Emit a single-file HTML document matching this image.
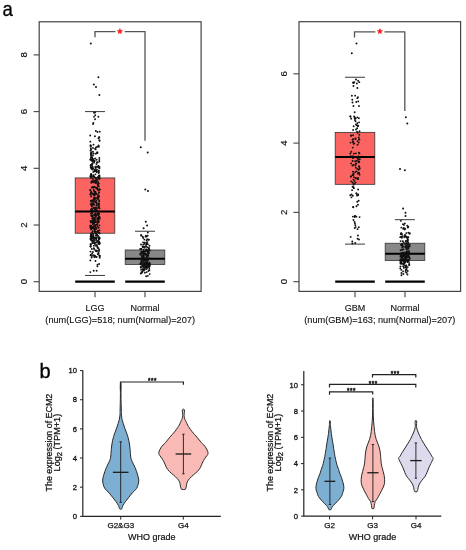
<!DOCTYPE html>
<html><head><meta charset="utf-8"><title>Figure</title><style>
html,body{margin:0;padding:0;background:#fff;width:466px;height:550px;overflow:hidden}
svg{display:block}
text{font-family:"Liberation Sans",Arial,sans-serif}
</style></head><body>
<svg width="466" height="550" viewBox="0 0 466 550">
<rect width="466" height="550" fill="#fff"/>
<rect x="75.2" y="177.94" width="39.6" height="55.28" fill="#FC6462" stroke="#333" stroke-width="0.8"/><path d="M75.2,211.53H114.8" stroke="#000" stroke-width="2"/><path d="M85,111.6H105" stroke="#222" stroke-width="0.9"/><path d="M85,275.46H105" stroke="#222" stroke-width="0.9"/><path d="M75.2,281.7H114.8" stroke="#000" stroke-width="2.2"/><rect x="125.2" y="250" width="39.6" height="14.49" fill="#888888" stroke="#333" stroke-width="0.8"/><path d="M125.2,258.74H164.8" stroke="#000" stroke-width="2"/><path d="M135,231.24H155" stroke="#222" stroke-width="0.9"/><path d="M125.2,281.7H164.8" stroke="#000" stroke-width="2.2"/><g fill="#111"><circle cx="98.04" cy="194.37" r="0.95"/><circle cx="91.5" cy="157.35" r="0.95"/><circle cx="95.43" cy="174.35" r="0.95"/><circle cx="97.24" cy="235.19" r="0.95"/><circle cx="94.07" cy="228.73" r="0.95"/><circle cx="92.79" cy="160.66" r="0.95"/><circle cx="93.77" cy="270.74" r="0.95"/><circle cx="95.4" cy="167.98" r="0.95"/><circle cx="96.79" cy="171.36" r="0.95"/><circle cx="95.57" cy="213.7" r="0.95"/><circle cx="91.23" cy="228.47" r="0.95"/><circle cx="98.05" cy="230.67" r="0.95"/><circle cx="99.07" cy="232.79" r="0.95"/><circle cx="91.17" cy="215.75" r="0.95"/><circle cx="92.6" cy="210.23" r="0.95"/><circle cx="91.87" cy="203.79" r="0.95"/><circle cx="98.35" cy="116.7" r="0.95"/><circle cx="98.94" cy="171.97" r="0.95"/><circle cx="90.63" cy="194.75" r="0.95"/><circle cx="93.39" cy="122.98" r="0.95"/><circle cx="92.05" cy="235.98" r="0.95"/><circle cx="94.71" cy="240.35" r="0.95"/><circle cx="99.05" cy="196.02" r="0.95"/><circle cx="90.87" cy="254.66" r="0.95"/><circle cx="91.84" cy="256.07" r="0.95"/><circle cx="94.88" cy="208.87" r="0.95"/><circle cx="95.23" cy="213.85" r="0.95"/><circle cx="97.36" cy="153.07" r="0.95"/><circle cx="94.4" cy="193.83" r="0.95"/><circle cx="91.55" cy="208.97" r="0.95"/><circle cx="93.59" cy="211.11" r="0.95"/><circle cx="99.63" cy="233.42" r="0.95"/><circle cx="97.41" cy="266.36" r="0.95"/><circle cx="91.32" cy="237.79" r="0.95"/><circle cx="97.96" cy="185.56" r="0.95"/><circle cx="93.18" cy="237.14" r="0.95"/><circle cx="97.7" cy="222.51" r="0.95"/><circle cx="90.32" cy="272.11" r="0.95"/><circle cx="98.56" cy="166.74" r="0.95"/><circle cx="91.76" cy="240.81" r="0.95"/><circle cx="94.58" cy="231.64" r="0.95"/><circle cx="96.55" cy="159.71" r="0.95"/><circle cx="95.08" cy="209.54" r="0.95"/><circle cx="91.79" cy="164.35" r="0.95"/><circle cx="91.54" cy="192.45" r="0.95"/><circle cx="92.93" cy="179.02" r="0.95"/><circle cx="90.7" cy="246.58" r="0.95"/><circle cx="92.28" cy="205.41" r="0.95"/><circle cx="91.45" cy="209.8" r="0.95"/><circle cx="94.66" cy="160.97" r="0.95"/><circle cx="93.62" cy="223.25" r="0.95"/><circle cx="95.83" cy="197.91" r="0.95"/><circle cx="92.9" cy="252.06" r="0.95"/><circle cx="90.53" cy="220.89" r="0.95"/><circle cx="93.38" cy="226.68" r="0.95"/><circle cx="97.45" cy="241.14" r="0.95"/><circle cx="92.66" cy="168.66" r="0.95"/><circle cx="94.08" cy="221.62" r="0.95"/><circle cx="97.45" cy="132.04" r="0.95"/><circle cx="94.1" cy="198.99" r="0.95"/><circle cx="98.72" cy="197.01" r="0.95"/><circle cx="99.01" cy="192.67" r="0.95"/><circle cx="93.18" cy="187.61" r="0.95"/><circle cx="97.27" cy="241.1" r="0.95"/><circle cx="92.63" cy="216.17" r="0.95"/><circle cx="91.54" cy="234.05" r="0.95"/><circle cx="94.4" cy="219.56" r="0.95"/><circle cx="95.98" cy="245.69" r="0.95"/><circle cx="99.18" cy="137.2" r="0.95"/><circle cx="91.6" cy="236" r="0.95"/><circle cx="97.04" cy="188.23" r="0.95"/><circle cx="94.76" cy="228.7" r="0.95"/><circle cx="91.46" cy="160.59" r="0.95"/><circle cx="99.54" cy="189.49" r="0.95"/><circle cx="96.88" cy="242.62" r="0.95"/><circle cx="91.44" cy="164.64" r="0.95"/><circle cx="98.9" cy="146.77" r="0.95"/><circle cx="91.19" cy="156.07" r="0.95"/><circle cx="91.09" cy="201.65" r="0.95"/><circle cx="93.38" cy="241.52" r="0.95"/><circle cx="99.2" cy="237.79" r="0.95"/><circle cx="90.52" cy="150.63" r="0.95"/><circle cx="99.01" cy="203.94" r="0.95"/><circle cx="96.07" cy="238.73" r="0.95"/><circle cx="90.84" cy="159.19" r="0.95"/><circle cx="95.66" cy="192.2" r="0.95"/><circle cx="94.6" cy="201.66" r="0.95"/><circle cx="95.61" cy="221.91" r="0.95"/><circle cx="97.28" cy="218.8" r="0.95"/><circle cx="96.71" cy="234.06" r="0.95"/><circle cx="99.77" cy="255.66" r="0.95"/><circle cx="91.7" cy="160.29" r="0.95"/><circle cx="98" cy="213.72" r="0.95"/><circle cx="94.15" cy="204.56" r="0.95"/><circle cx="97.72" cy="226.76" r="0.95"/><circle cx="98.76" cy="177.75" r="0.95"/><circle cx="99.72" cy="257.85" r="0.95"/><circle cx="92.75" cy="222.28" r="0.95"/><circle cx="94.55" cy="256.98" r="0.95"/><circle cx="99.25" cy="243.31" r="0.95"/><circle cx="99.28" cy="137.52" r="0.95"/><circle cx="93.78" cy="190.07" r="0.95"/><circle cx="99.23" cy="217.26" r="0.95"/><circle cx="94.1" cy="207.7" r="0.95"/><circle cx="93.8" cy="160.76" r="0.95"/><circle cx="97.46" cy="224.78" r="0.95"/><circle cx="94.72" cy="198.95" r="0.95"/><circle cx="94.5" cy="186.66" r="0.95"/><circle cx="93.91" cy="223.78" r="0.95"/><circle cx="94.35" cy="208.31" r="0.95"/><circle cx="91.54" cy="175.81" r="0.95"/><circle cx="90.79" cy="154.88" r="0.95"/><circle cx="97.44" cy="241.08" r="0.95"/><circle cx="95.62" cy="149.38" r="0.95"/><circle cx="96.65" cy="270.81" r="0.95"/><circle cx="97.9" cy="177.52" r="0.95"/><circle cx="92.41" cy="169.47" r="0.95"/><circle cx="92.44" cy="242.21" r="0.95"/><circle cx="92.87" cy="218.09" r="0.95"/><circle cx="93.12" cy="168.81" r="0.95"/><circle cx="97.5" cy="264.77" r="0.95"/><circle cx="93.79" cy="193.93" r="0.95"/><circle cx="93.3" cy="171.92" r="0.95"/><circle cx="96.31" cy="209.11" r="0.95"/><circle cx="91.99" cy="181.12" r="0.95"/><circle cx="91.22" cy="235.09" r="0.95"/><circle cx="96.89" cy="237.31" r="0.95"/><circle cx="97.46" cy="223.09" r="0.95"/><circle cx="93.05" cy="238.83" r="0.95"/><circle cx="96.31" cy="224.62" r="0.95"/><circle cx="90.53" cy="146.05" r="0.95"/><circle cx="94.08" cy="201.18" r="0.95"/><circle cx="95.75" cy="225.15" r="0.95"/><circle cx="92.63" cy="231.29" r="0.95"/><circle cx="93.54" cy="144.66" r="0.95"/><circle cx="96.05" cy="215.8" r="0.95"/><circle cx="95.86" cy="131.07" r="0.95"/><circle cx="91.68" cy="208.78" r="0.95"/><circle cx="96.98" cy="208.04" r="0.95"/><circle cx="90.97" cy="157.44" r="0.95"/><circle cx="99.51" cy="178.89" r="0.95"/><circle cx="92.14" cy="200.22" r="0.95"/><circle cx="92.63" cy="217.4" r="0.95"/><circle cx="92.12" cy="160.01" r="0.95"/><circle cx="99.72" cy="218.74" r="0.95"/><circle cx="92.95" cy="151.8" r="0.95"/><circle cx="96.01" cy="250.45" r="0.95"/><circle cx="99.71" cy="217.1" r="0.95"/><circle cx="99.32" cy="208.26" r="0.95"/><circle cx="90.61" cy="145.18" r="0.95"/><circle cx="95.2" cy="233.13" r="0.95"/><circle cx="95.97" cy="170.1" r="0.95"/><circle cx="96.94" cy="187.61" r="0.95"/><circle cx="93.42" cy="182.27" r="0.95"/><circle cx="93.35" cy="193.77" r="0.95"/><circle cx="90.24" cy="135.43" r="0.95"/><circle cx="90.54" cy="225.81" r="0.95"/><circle cx="95.48" cy="219.94" r="0.95"/><circle cx="90.93" cy="236.96" r="0.95"/><circle cx="92.14" cy="253.51" r="0.95"/><circle cx="93.4" cy="236.17" r="0.95"/><circle cx="90.88" cy="153.45" r="0.95"/><circle cx="90.5" cy="165.33" r="0.95"/><circle cx="99.1" cy="244.14" r="0.95"/><circle cx="94.38" cy="197.17" r="0.95"/><circle cx="92.17" cy="212.69" r="0.95"/><circle cx="97" cy="198.37" r="0.95"/><circle cx="90.29" cy="189.87" r="0.95"/><circle cx="92.55" cy="228.15" r="0.95"/><circle cx="99.42" cy="140.26" r="0.95"/><circle cx="98.82" cy="213.89" r="0.95"/><circle cx="96.3" cy="193.97" r="0.95"/><circle cx="91.09" cy="193.04" r="0.95"/><circle cx="93.25" cy="238.47" r="0.95"/><circle cx="90.47" cy="251.62" r="0.95"/><circle cx="92.3" cy="218.75" r="0.95"/><circle cx="90.44" cy="175.98" r="0.95"/><circle cx="91.41" cy="168.82" r="0.95"/><circle cx="96.28" cy="180.57" r="0.95"/><circle cx="91.16" cy="244.08" r="0.95"/><circle cx="91.7" cy="153.93" r="0.95"/><circle cx="98.87" cy="170.66" r="0.95"/><circle cx="93.42" cy="160.08" r="0.95"/><circle cx="93.4" cy="207.76" r="0.95"/><circle cx="91.03" cy="153.41" r="0.95"/><circle cx="97.84" cy="254.2" r="0.95"/><circle cx="96.69" cy="256.99" r="0.95"/><circle cx="95.45" cy="260.96" r="0.95"/><circle cx="96.13" cy="232.97" r="0.95"/><circle cx="91.16" cy="233.34" r="0.95"/><circle cx="92.7" cy="238.18" r="0.95"/><circle cx="95.8" cy="202" r="0.95"/><circle cx="99.34" cy="255.51" r="0.95"/><circle cx="98.04" cy="198.94" r="0.95"/><circle cx="96.35" cy="239.89" r="0.95"/><circle cx="95.18" cy="187.43" r="0.95"/><circle cx="90.35" cy="260.4" r="0.95"/><circle cx="98.75" cy="227.8" r="0.95"/><circle cx="90.84" cy="148.26" r="0.95"/><circle cx="91.44" cy="205.77" r="0.95"/><circle cx="96.85" cy="169.33" r="0.95"/><circle cx="98" cy="190.04" r="0.95"/><circle cx="97.75" cy="196.26" r="0.95"/><circle cx="94.54" cy="237.88" r="0.95"/><circle cx="91.9" cy="201.04" r="0.95"/><circle cx="90.54" cy="255.39" r="0.95"/><circle cx="98.37" cy="170.71" r="0.95"/><circle cx="99.59" cy="140.86" r="0.95"/><circle cx="92.54" cy="163.39" r="0.95"/><circle cx="98.51" cy="253.51" r="0.95"/><circle cx="94.06" cy="225.28" r="0.95"/><circle cx="93.19" cy="227.13" r="0.95"/><circle cx="95.05" cy="244.12" r="0.95"/><circle cx="90.28" cy="194.17" r="0.95"/><circle cx="94.45" cy="171.3" r="0.95"/><circle cx="92.12" cy="227.51" r="0.95"/><circle cx="97.04" cy="162.16" r="0.95"/><circle cx="95.02" cy="171.35" r="0.95"/><circle cx="98.54" cy="242.82" r="0.95"/><circle cx="98.81" cy="175.58" r="0.95"/><circle cx="93.24" cy="159.39" r="0.95"/><circle cx="92.89" cy="237.41" r="0.95"/><circle cx="99.22" cy="201.14" r="0.95"/><circle cx="95.04" cy="192.57" r="0.95"/><circle cx="91.13" cy="196.44" r="0.95"/><circle cx="90.64" cy="245.77" r="0.95"/><circle cx="99.71" cy="189.62" r="0.95"/><circle cx="95.76" cy="193.47" r="0.95"/><circle cx="90.72" cy="167.61" r="0.95"/><circle cx="95.11" cy="170.45" r="0.95"/><circle cx="95.04" cy="226.31" r="0.95"/><circle cx="94.38" cy="181.62" r="0.95"/><circle cx="99.33" cy="161.54" r="0.95"/><circle cx="99.31" cy="157.95" r="0.95"/><circle cx="91.4" cy="240.25" r="0.95"/><circle cx="91.66" cy="257.6" r="0.95"/><circle cx="94.11" cy="190.99" r="0.95"/><circle cx="98.21" cy="236.03" r="0.95"/><circle cx="96.19" cy="202.44" r="0.95"/><circle cx="97.21" cy="146.8" r="0.95"/><circle cx="95.73" cy="221.64" r="0.95"/><circle cx="92.22" cy="232.97" r="0.95"/><circle cx="98.05" cy="214.72" r="0.95"/><circle cx="90.33" cy="190.14" r="0.95"/><circle cx="96.91" cy="245.04" r="0.95"/><circle cx="92.07" cy="221.52" r="0.95"/><circle cx="94.72" cy="242.45" r="0.95"/><circle cx="99.56" cy="189.46" r="0.95"/><circle cx="95.37" cy="166.67" r="0.95"/><circle cx="90.75" cy="221.86" r="0.95"/><circle cx="94.32" cy="222.32" r="0.95"/><circle cx="96.54" cy="205.63" r="0.95"/><circle cx="90.74" cy="236" r="0.95"/><circle cx="92.63" cy="233.43" r="0.95"/><circle cx="90.38" cy="226.07" r="0.95"/><circle cx="95.38" cy="214.64" r="0.95"/><circle cx="93.86" cy="248.27" r="0.95"/><circle cx="95.04" cy="177.56" r="0.95"/><circle cx="93.04" cy="200.43" r="0.95"/><circle cx="96.51" cy="228.77" r="0.95"/><circle cx="91.86" cy="248.95" r="0.95"/><circle cx="98.9" cy="176.1" r="0.95"/><circle cx="99.42" cy="242.66" r="0.95"/><circle cx="94.93" cy="242.49" r="0.95"/><circle cx="94.67" cy="242.69" r="0.95"/><circle cx="98.45" cy="248.32" r="0.95"/><circle cx="92.98" cy="155.51" r="0.95"/><circle cx="97.91" cy="231.5" r="0.95"/><circle cx="92.96" cy="228.17" r="0.95"/><circle cx="97.11" cy="166.36" r="0.95"/><circle cx="93.41" cy="195.05" r="0.95"/><circle cx="95.98" cy="238.21" r="0.95"/><circle cx="99.09" cy="216.66" r="0.95"/><circle cx="90.72" cy="159.21" r="0.95"/><circle cx="97.95" cy="221.99" r="0.95"/><circle cx="95.4" cy="183.08" r="0.95"/><circle cx="93.84" cy="245.67" r="0.95"/><circle cx="93.56" cy="180.92" r="0.95"/><circle cx="90.87" cy="174.24" r="0.95"/><circle cx="92.68" cy="167.34" r="0.95"/><circle cx="96.18" cy="187.91" r="0.95"/><circle cx="91.14" cy="222.41" r="0.95"/><circle cx="96.63" cy="251.22" r="0.95"/><circle cx="99.44" cy="208.36" r="0.95"/><circle cx="99.62" cy="176.9" r="0.95"/><circle cx="98.74" cy="237.92" r="0.95"/><circle cx="97.94" cy="231.77" r="0.95"/><circle cx="91.91" cy="206.07" r="0.95"/><circle cx="99.51" cy="178.16" r="0.95"/><circle cx="92.15" cy="157.44" r="0.95"/><circle cx="98.54" cy="243.09" r="0.95"/><circle cx="98.63" cy="238.44" r="0.95"/><circle cx="96.17" cy="171.01" r="0.95"/><circle cx="95.2" cy="191.81" r="0.95"/><circle cx="92.12" cy="181.76" r="0.95"/><circle cx="95.19" cy="115.26" r="0.95"/><circle cx="92.99" cy="148.07" r="0.95"/><circle cx="91.41" cy="164.93" r="0.95"/><circle cx="91.43" cy="174.15" r="0.95"/><circle cx="97.89" cy="220.23" r="0.95"/><circle cx="99.06" cy="192.25" r="0.95"/><circle cx="91.56" cy="238.43" r="0.95"/><circle cx="90.33" cy="176.61" r="0.95"/><circle cx="92.73" cy="176.86" r="0.95"/><circle cx="91.49" cy="181.71" r="0.95"/><circle cx="92.01" cy="215.77" r="0.95"/><circle cx="95.8" cy="221.74" r="0.95"/><circle cx="94.25" cy="218.01" r="0.95"/><circle cx="94.32" cy="256.47" r="0.95"/><circle cx="92.17" cy="164.75" r="0.95"/><circle cx="96.58" cy="205.25" r="0.95"/><circle cx="92.98" cy="220.9" r="0.95"/><circle cx="94.03" cy="204.51" r="0.95"/><circle cx="94.65" cy="181.67" r="0.95"/><circle cx="98.88" cy="221.44" r="0.95"/><circle cx="92.57" cy="166.66" r="0.95"/><circle cx="97.1" cy="152.55" r="0.95"/><circle cx="93.17" cy="220.91" r="0.95"/><circle cx="98.79" cy="242.13" r="0.95"/><circle cx="93.98" cy="176.49" r="0.95"/><circle cx="95.05" cy="119.21" r="0.95"/><circle cx="98.62" cy="241.32" r="0.95"/><circle cx="96.66" cy="182.85" r="0.95"/><circle cx="91.11" cy="167.4" r="0.95"/><circle cx="91.51" cy="152.29" r="0.95"/><circle cx="99.71" cy="243.27" r="0.95"/><circle cx="90.48" cy="246.52" r="0.95"/><circle cx="93.09" cy="124.01" r="0.95"/><circle cx="99.41" cy="243.8" r="0.95"/><circle cx="90.35" cy="239.03" r="0.95"/><circle cx="91.75" cy="200.97" r="0.95"/><circle cx="92.25" cy="215.64" r="0.95"/><circle cx="91.03" cy="177.88" r="0.95"/><circle cx="94.73" cy="237.94" r="0.95"/><circle cx="95.89" cy="153.69" r="0.95"/><circle cx="93.26" cy="235.83" r="0.95"/><circle cx="91.24" cy="175.27" r="0.95"/><circle cx="97.99" cy="250.64" r="0.95"/><circle cx="97.92" cy="213.21" r="0.95"/><circle cx="95.6" cy="256.6" r="0.95"/><circle cx="91.52" cy="227.5" r="0.95"/><circle cx="95.4" cy="227.65" r="0.95"/><circle cx="96.24" cy="181.92" r="0.95"/><circle cx="94.31" cy="214.85" r="0.95"/><circle cx="98.49" cy="252.48" r="0.95"/><circle cx="93.94" cy="116.86" r="0.95"/><circle cx="95.1" cy="158.54" r="0.95"/><circle cx="91.3" cy="153.26" r="0.95"/><circle cx="95.61" cy="233.49" r="0.95"/><circle cx="97.56" cy="220.31" r="0.95"/><circle cx="97.22" cy="235.03" r="0.95"/><circle cx="92.67" cy="243.15" r="0.95"/><circle cx="99.72" cy="256.52" r="0.95"/><circle cx="97.11" cy="210.39" r="0.95"/><circle cx="94.27" cy="243.29" r="0.95"/><circle cx="94.18" cy="239.07" r="0.95"/><circle cx="97.68" cy="162.49" r="0.95"/><circle cx="91.89" cy="212.24" r="0.95"/><circle cx="96.34" cy="238.48" r="0.95"/><circle cx="97.1" cy="188.48" r="0.95"/><circle cx="95.16" cy="231.8" r="0.95"/><circle cx="98.58" cy="207.28" r="0.95"/><circle cx="94.7" cy="230.27" r="0.95"/><circle cx="94.66" cy="208.7" r="0.95"/><circle cx="92.93" cy="193.92" r="0.95"/><circle cx="99.03" cy="206.06" r="0.95"/><circle cx="93.24" cy="220.18" r="0.95"/><circle cx="96.87" cy="172.23" r="0.95"/><circle cx="94.13" cy="160.68" r="0.95"/><circle cx="99.18" cy="238.83" r="0.95"/><circle cx="99.3" cy="242.25" r="0.95"/><circle cx="90.49" cy="244.08" r="0.95"/><circle cx="99.75" cy="131.64" r="0.95"/><circle cx="96.01" cy="147.53" r="0.95"/><circle cx="90.91" cy="234.76" r="0.95"/><circle cx="94.97" cy="136.21" r="0.95"/><circle cx="90.67" cy="236.57" r="0.95"/><circle cx="95.47" cy="209.97" r="0.95"/><circle cx="91.98" cy="211.06" r="0.95"/><circle cx="93.73" cy="153.57" r="0.95"/><circle cx="93.13" cy="255.24" r="0.95"/><circle cx="95.98" cy="227.37" r="0.95"/><circle cx="98.09" cy="197.67" r="0.95"/><circle cx="99.19" cy="250.84" r="0.95"/><circle cx="93.36" cy="234.29" r="0.95"/><circle cx="95.67" cy="213.95" r="0.95"/><circle cx="90.26" cy="159.64" r="0.95"/><circle cx="93.77" cy="176.41" r="0.95"/><circle cx="99.42" cy="166.89" r="0.95"/><circle cx="91.34" cy="176.39" r="0.95"/><circle cx="98.55" cy="183.5" r="0.95"/><circle cx="96.46" cy="164" r="0.95"/><circle cx="93.02" cy="186.95" r="0.95"/><circle cx="97.67" cy="179.82" r="0.95"/><circle cx="92.98" cy="228.59" r="0.95"/><circle cx="98.79" cy="239.76" r="0.95"/><circle cx="90.99" cy="177.03" r="0.95"/><circle cx="91.34" cy="239.9" r="0.95"/><circle cx="97.4" cy="152.55" r="0.95"/><circle cx="94.51" cy="198.11" r="0.95"/><circle cx="91.62" cy="226.11" r="0.95"/><circle cx="95.13" cy="148.65" r="0.95"/><circle cx="93.05" cy="240.75" r="0.95"/><circle cx="95.47" cy="208.92" r="0.95"/><circle cx="97.34" cy="246.57" r="0.95"/><circle cx="98.43" cy="138.33" r="0.95"/><circle cx="90.77" cy="200.91" r="0.95"/><circle cx="95.89" cy="170.43" r="0.95"/><circle cx="99.64" cy="230.36" r="0.95"/><circle cx="94.61" cy="170.69" r="0.95"/><circle cx="97.59" cy="184.14" r="0.95"/><circle cx="91.13" cy="191.92" r="0.95"/><circle cx="98.59" cy="145.35" r="0.95"/><circle cx="95.79" cy="216.78" r="0.95"/><circle cx="98.73" cy="218.43" r="0.95"/><circle cx="97.76" cy="185.55" r="0.95"/><circle cx="98.54" cy="166.04" r="0.95"/><circle cx="90.75" cy="225.6" r="0.95"/><circle cx="97.07" cy="188.51" r="0.95"/><circle cx="92.09" cy="236.47" r="0.95"/><circle cx="92.75" cy="204.02" r="0.95"/><circle cx="93.32" cy="175.26" r="0.95"/><circle cx="95.88" cy="251.03" r="0.95"/><circle cx="96.23" cy="180.85" r="0.95"/><circle cx="99.14" cy="264.02" r="0.95"/><circle cx="90.32" cy="141.67" r="0.95"/><circle cx="92.06" cy="213.63" r="0.95"/><circle cx="93.68" cy="218.97" r="0.95"/><circle cx="98.05" cy="181.83" r="0.95"/><circle cx="95.48" cy="207.76" r="0.95"/><circle cx="95.12" cy="180.46" r="0.95"/><circle cx="97.5" cy="247.72" r="0.95"/><circle cx="96.49" cy="202.57" r="0.95"/><circle cx="92.98" cy="203.18" r="0.95"/><circle cx="91.04" cy="149.68" r="0.95"/><circle cx="94.64" cy="255.4" r="0.95"/><circle cx="98.65" cy="215.05" r="0.95"/><circle cx="95.94" cy="193.58" r="0.95"/><circle cx="90.71" cy="204.15" r="0.95"/><circle cx="94.42" cy="249.52" r="0.95"/><circle cx="93.89" cy="198.56" r="0.95"/><circle cx="95.79" cy="235.43" r="0.95"/><circle cx="95.84" cy="237.54" r="0.95"/><circle cx="99.33" cy="159.94" r="0.95"/><circle cx="93.45" cy="237.36" r="0.95"/><circle cx="94.12" cy="214.92" r="0.95"/><circle cx="96.09" cy="177.9" r="0.95"/><circle cx="98.71" cy="183.55" r="0.95"/><circle cx="96.98" cy="203.79" r="0.95"/><circle cx="94.72" cy="169.96" r="0.95"/><circle cx="98.02" cy="213.89" r="0.95"/><circle cx="94.86" cy="194.99" r="0.95"/><circle cx="99.45" cy="168.3" r="0.95"/><circle cx="92.91" cy="187.4" r="0.95"/><circle cx="91.42" cy="192.17" r="0.95"/><circle cx="98.17" cy="219.23" r="0.95"/><circle cx="93.05" cy="203.15" r="0.95"/><circle cx="98.34" cy="220.13" r="0.95"/><circle cx="96.05" cy="178.69" r="0.95"/><circle cx="95.09" cy="221.54" r="0.95"/><circle cx="91.04" cy="213.82" r="0.95"/><circle cx="97.75" cy="177.18" r="0.95"/><circle cx="90.83" cy="210.34" r="0.95"/><circle cx="99.47" cy="225.34" r="0.95"/><circle cx="98.62" cy="167.2" r="0.95"/><circle cx="93.11" cy="221.49" r="0.95"/><circle cx="91.43" cy="164.69" r="0.95"/><circle cx="98.7" cy="173.01" r="0.95"/><circle cx="94.81" cy="215.55" r="0.95"/><circle cx="91.4" cy="182.82" r="0.95"/><circle cx="94.99" cy="256.29" r="0.95"/><circle cx="92.57" cy="220.7" r="0.95"/><circle cx="94.12" cy="162.51" r="0.95"/><circle cx="96.35" cy="200.36" r="0.95"/><circle cx="98.99" cy="203.22" r="0.95"/><circle cx="97.89" cy="189.15" r="0.95"/><circle cx="91.75" cy="187.45" r="0.95"/><circle cx="94.78" cy="199.83" r="0.95"/><circle cx="94.92" cy="217.94" r="0.95"/><circle cx="99.7" cy="238.5" r="0.95"/><circle cx="91.03" cy="229.4" r="0.95"/><circle cx="95.1" cy="229.38" r="0.95"/><circle cx="98.98" cy="217.03" r="0.95"/><circle cx="94.03" cy="112.67" r="0.95"/><circle cx="92.71" cy="224.03" r="0.95"/><circle cx="95.54" cy="215.54" r="0.95"/><circle cx="93.27" cy="222.33" r="0.95"/><circle cx="99.1" cy="200.11" r="0.95"/><circle cx="91.01" cy="146.1" r="0.95"/><circle cx="92.18" cy="158.49" r="0.95"/><circle cx="91.01" cy="221.83" r="0.95"/><circle cx="97.03" cy="231.71" r="0.95"/><circle cx="93.01" cy="159.14" r="0.95"/><circle cx="98.84" cy="211.38" r="0.95"/><circle cx="98.78" cy="186.42" r="0.95"/><circle cx="99.19" cy="249.67" r="0.95"/><circle cx="92.66" cy="161.64" r="0.95"/><circle cx="90.21" cy="227.58" r="0.95"/><circle cx="93.92" cy="211.32" r="0.95"/><circle cx="99.44" cy="237.35" r="0.95"/><circle cx="97.53" cy="217.97" r="0.95"/><circle cx="90.77" cy="167.02" r="0.95"/><circle cx="96.94" cy="167.09" r="0.95"/><circle cx="99" cy="213.18" r="0.95"/><circle cx="99.49" cy="175.43" r="0.95"/><circle cx="97.07" cy="214.58" r="0.95"/><circle cx="98.48" cy="222.17" r="0.95"/><circle cx="98.28" cy="204.79" r="0.95"/><circle cx="93.64" cy="237.08" r="0.95"/><circle cx="91.15" cy="227.26" r="0.95"/><circle cx="147.18" cy="251.36" r="0.95"/><circle cx="141.51" cy="248.91" r="0.95"/><circle cx="143.89" cy="270.59" r="0.95"/><circle cx="149.76" cy="250.54" r="0.95"/><circle cx="145.57" cy="246.41" r="0.95"/><circle cx="145.21" cy="259.27" r="0.95"/><circle cx="149.3" cy="270.19" r="0.95"/><circle cx="142.93" cy="252.1" r="0.95"/><circle cx="149.79" cy="264.59" r="0.95"/><circle cx="148.96" cy="253.33" r="0.95"/><circle cx="143.69" cy="261.1" r="0.95"/><circle cx="143.34" cy="253.52" r="0.95"/><circle cx="141.42" cy="264.27" r="0.95"/><circle cx="148.99" cy="258.43" r="0.95"/><circle cx="141.98" cy="257.03" r="0.95"/><circle cx="140.29" cy="253.72" r="0.95"/><circle cx="148.74" cy="265.72" r="0.95"/><circle cx="145.94" cy="235.73" r="0.95"/><circle cx="146.65" cy="263.44" r="0.95"/><circle cx="147.24" cy="262.99" r="0.95"/><circle cx="140.61" cy="264.32" r="0.95"/><circle cx="141.08" cy="269.83" r="0.95"/><circle cx="145" cy="259.86" r="0.95"/><circle cx="140.68" cy="248.84" r="0.95"/><circle cx="145.04" cy="251.27" r="0.95"/><circle cx="147.27" cy="265.92" r="0.95"/><circle cx="146.51" cy="267.45" r="0.95"/><circle cx="146.12" cy="262.58" r="0.95"/><circle cx="140.65" cy="249.03" r="0.95"/><circle cx="142.47" cy="258.12" r="0.95"/><circle cx="148.82" cy="239.66" r="0.95"/><circle cx="141.38" cy="252.92" r="0.95"/><circle cx="145.32" cy="254.03" r="0.95"/><circle cx="140.68" cy="249.06" r="0.95"/><circle cx="149.22" cy="249.99" r="0.95"/><circle cx="141.85" cy="261.98" r="0.95"/><circle cx="144.14" cy="264.3" r="0.95"/><circle cx="145.45" cy="259.47" r="0.95"/><circle cx="147.1" cy="258.09" r="0.95"/><circle cx="149.2" cy="267.33" r="0.95"/><circle cx="147.27" cy="259.37" r="0.95"/><circle cx="143.53" cy="253.44" r="0.95"/><circle cx="140.92" cy="267.48" r="0.95"/><circle cx="146.99" cy="267.42" r="0.95"/><circle cx="149.54" cy="266.49" r="0.95"/><circle cx="140.36" cy="263.6" r="0.95"/><circle cx="147.64" cy="235.76" r="0.95"/><circle cx="141.89" cy="272.78" r="0.95"/><circle cx="144.62" cy="266.23" r="0.95"/><circle cx="145.22" cy="266.72" r="0.95"/><circle cx="146.1" cy="258.49" r="0.95"/><circle cx="149.7" cy="274.1" r="0.95"/><circle cx="146.8" cy="258.92" r="0.95"/><circle cx="143.97" cy="266.77" r="0.95"/><circle cx="147.06" cy="263.97" r="0.95"/><circle cx="144.68" cy="247.74" r="0.95"/><circle cx="144.17" cy="266.22" r="0.95"/><circle cx="143.71" cy="254.15" r="0.95"/><circle cx="144.94" cy="260.31" r="0.95"/><circle cx="142.9" cy="260.01" r="0.95"/><circle cx="142.52" cy="246.44" r="0.95"/><circle cx="141.63" cy="266.82" r="0.95"/><circle cx="144.43" cy="239.6" r="0.95"/><circle cx="143.02" cy="242.36" r="0.95"/><circle cx="148.23" cy="252.55" r="0.95"/><circle cx="148.34" cy="271.11" r="0.95"/><circle cx="143.5" cy="252.71" r="0.95"/><circle cx="146.14" cy="254.67" r="0.95"/><circle cx="148.86" cy="248.82" r="0.95"/><circle cx="143.65" cy="265.44" r="0.95"/><circle cx="145.53" cy="236.61" r="0.95"/><circle cx="144.46" cy="242.75" r="0.95"/><circle cx="146.44" cy="268.04" r="0.95"/><circle cx="149.41" cy="262.75" r="0.95"/><circle cx="141.53" cy="272.31" r="0.95"/><circle cx="149.47" cy="245.69" r="0.95"/><circle cx="146.59" cy="240.48" r="0.95"/><circle cx="147.84" cy="232.49" r="0.95"/><circle cx="146.3" cy="254.31" r="0.95"/><circle cx="148.56" cy="252.62" r="0.95"/><circle cx="143.33" cy="252.24" r="0.95"/><circle cx="147" cy="255.61" r="0.95"/><circle cx="142.74" cy="236.7" r="0.95"/><circle cx="145.08" cy="254.44" r="0.95"/><circle cx="146.74" cy="262.2" r="0.95"/><circle cx="142.13" cy="257.4" r="0.95"/><circle cx="140.79" cy="273.44" r="0.95"/><circle cx="147.79" cy="250.81" r="0.95"/><circle cx="147.97" cy="251.75" r="0.95"/><circle cx="146.59" cy="259.91" r="0.95"/><circle cx="143.29" cy="244.6" r="0.95"/><circle cx="146.52" cy="249.71" r="0.95"/><circle cx="141.01" cy="262.17" r="0.95"/><circle cx="146.56" cy="269.12" r="0.95"/><circle cx="145.73" cy="267.58" r="0.95"/><circle cx="146.13" cy="266.21" r="0.95"/><circle cx="144.49" cy="263.05" r="0.95"/><circle cx="142.36" cy="259.21" r="0.95"/><circle cx="147.17" cy="239.18" r="0.95"/><circle cx="144.66" cy="263.73" r="0.95"/><circle cx="147.36" cy="242.09" r="0.95"/><circle cx="143.7" cy="252.17" r="0.95"/><circle cx="141.04" cy="244.49" r="0.95"/><circle cx="145.41" cy="260.39" r="0.95"/><circle cx="146.18" cy="276.28" r="0.95"/><circle cx="149.05" cy="248.03" r="0.95"/><circle cx="148.72" cy="264.61" r="0.95"/><circle cx="140.75" cy="267.31" r="0.95"/><circle cx="147.61" cy="247.37" r="0.95"/><circle cx="142.71" cy="251.99" r="0.95"/><circle cx="146.89" cy="265.48" r="0.95"/><circle cx="143.84" cy="264.02" r="0.95"/><circle cx="143.29" cy="238.04" r="0.95"/><circle cx="144.89" cy="264" r="0.95"/><circle cx="145.29" cy="251.49" r="0.95"/><circle cx="146.87" cy="267.65" r="0.95"/><circle cx="146.32" cy="246.54" r="0.95"/><circle cx="146.71" cy="267.96" r="0.95"/><circle cx="143.89" cy="257.3" r="0.95"/><circle cx="146.7" cy="272.12" r="0.95"/><circle cx="143.52" cy="256.24" r="0.95"/><circle cx="146.03" cy="244.85" r="0.95"/><circle cx="144.61" cy="268.83" r="0.95"/><circle cx="145.6" cy="263.84" r="0.95"/><circle cx="140.37" cy="249.22" r="0.95"/><circle cx="144.99" cy="254.43" r="0.95"/><circle cx="142.31" cy="262.81" r="0.95"/><circle cx="143.9" cy="253.78" r="0.95"/><circle cx="140.91" cy="259.01" r="0.95"/><circle cx="146.51" cy="244.02" r="0.95"/><circle cx="148.78" cy="263.34" r="0.95"/><circle cx="143.6" cy="249.59" r="0.95"/><circle cx="141.21" cy="253.57" r="0.95"/><circle cx="146.15" cy="250.3" r="0.95"/><circle cx="141.42" cy="261.06" r="0.95"/><circle cx="148.76" cy="250.79" r="0.95"/><circle cx="141.38" cy="251.61" r="0.95"/><circle cx="143.67" cy="260.81" r="0.95"/><circle cx="144.95" cy="272.74" r="0.95"/><circle cx="141.33" cy="235.64" r="0.95"/><circle cx="143.26" cy="251.14" r="0.95"/><circle cx="142.84" cy="265.68" r="0.95"/><circle cx="147.05" cy="250.6" r="0.95"/><circle cx="149.67" cy="263.72" r="0.95"/><circle cx="143.68" cy="258.62" r="0.95"/><circle cx="147.79" cy="244.15" r="0.95"/><circle cx="141.55" cy="259.19" r="0.95"/><circle cx="145.77" cy="263.47" r="0.95"/><circle cx="144.35" cy="263.01" r="0.95"/><circle cx="142.97" cy="269.15" r="0.95"/><circle cx="148.09" cy="265.29" r="0.95"/><circle cx="147.37" cy="263.93" r="0.95"/><circle cx="141.49" cy="266.51" r="0.95"/><circle cx="143.01" cy="270.14" r="0.95"/><circle cx="148.07" cy="258.72" r="0.95"/><circle cx="149.73" cy="265.42" r="0.95"/><circle cx="146.07" cy="250.35" r="0.95"/><circle cx="148.57" cy="239.73" r="0.95"/><circle cx="149.65" cy="263.88" r="0.95"/><circle cx="147.31" cy="255.55" r="0.95"/><circle cx="146.39" cy="257.59" r="0.95"/><circle cx="142.32" cy="269.29" r="0.95"/><circle cx="143.76" cy="267.77" r="0.95"/><circle cx="146.19" cy="242.82" r="0.95"/><circle cx="149.09" cy="258.49" r="0.95"/><circle cx="143.1" cy="247.09" r="0.95"/><circle cx="143.99" cy="269.89" r="0.95"/><circle cx="140.41" cy="254.84" r="0.95"/><circle cx="146.89" cy="243.86" r="0.95"/><circle cx="144.46" cy="243.77" r="0.95"/><circle cx="147.86" cy="275.83" r="0.95"/><circle cx="142.44" cy="257.12" r="0.95"/><circle cx="146.53" cy="261.31" r="0.95"/><circle cx="146.66" cy="249.47" r="0.95"/><circle cx="144.66" cy="269.42" r="0.95"/><circle cx="142.01" cy="264.09" r="0.95"/><circle cx="144.07" cy="246.67" r="0.95"/><circle cx="147.35" cy="258.62" r="0.95"/><circle cx="142.02" cy="259.05" r="0.95"/><circle cx="141.06" cy="235.07" r="0.95"/><circle cx="144.64" cy="262.62" r="0.95"/><circle cx="142.45" cy="271.66" r="0.95"/><circle cx="147.89" cy="260.69" r="0.95"/><circle cx="148.05" cy="267.02" r="0.95"/><circle cx="149.27" cy="268.89" r="0.95"/><circle cx="148.26" cy="255.68" r="0.95"/><circle cx="146.42" cy="236.59" r="0.95"/><circle cx="142" cy="255.32" r="0.95"/><circle cx="148.1" cy="253.21" r="0.95"/><circle cx="147.19" cy="262.52" r="0.95"/><circle cx="147.37" cy="255.58" r="0.95"/><circle cx="146.9" cy="249.89" r="0.95"/><circle cx="148.17" cy="255.02" r="0.95"/><circle cx="143.06" cy="247.19" r="0.95"/><circle cx="146.66" cy="256.23" r="0.95"/><circle cx="145.17" cy="265.85" r="0.95"/><circle cx="143.44" cy="255.22" r="0.95"/><circle cx="143.34" cy="258.04" r="0.95"/><circle cx="141.69" cy="266.69" r="0.95"/><circle cx="144.92" cy="254.08" r="0.95"/><circle cx="90.8" cy="43.4" r="1.0"/><circle cx="98.4" cy="77.3" r="1.0"/><circle cx="93.9" cy="84.5" r="1.0"/><circle cx="96" cy="87" r="1.0"/><circle cx="99.4" cy="94.9" r="1.0"/><circle cx="95" cy="112.5" r="1.0"/><circle cx="140.8" cy="147.3" r="1.0"/><circle cx="147.7" cy="152.5" r="1.0"/><circle cx="145.3" cy="189.6" r="1.0"/><circle cx="148" cy="190.9" r="1.0"/><circle cx="145.8" cy="221.8" r="1.0"/><circle cx="147.1" cy="225.6" r="1.0"/><circle cx="143.6" cy="228.3" r="1.0"/></g><rect x="39.2" y="21.8" width="161.9" height="269.6" fill="none" stroke="#444" stroke-width="1.2"/><path d="M33.6,281.7H39.2" stroke="#444" stroke-width="1.1"/><text transform="translate(22.7,281.7) rotate(-90)" x="0" y="4.0" font-size="9.6" text-anchor="middle" fill="#111" stroke="#111" stroke-width="0.2">0</text><path d="M33.6,225H39.2" stroke="#444" stroke-width="1.1"/><text transform="translate(22.7,225) rotate(-90)" x="0" y="4.0" font-size="9.6" text-anchor="middle" fill="#111" stroke="#111" stroke-width="0.2">2</text><path d="M33.6,168.3H39.2" stroke="#444" stroke-width="1.1"/><text transform="translate(22.7,168.3) rotate(-90)" x="0" y="4.0" font-size="9.6" text-anchor="middle" fill="#111" stroke="#111" stroke-width="0.2">4</text><path d="M33.6,111.6H39.2" stroke="#444" stroke-width="1.1"/><text transform="translate(22.7,111.6) rotate(-90)" x="0" y="4.0" font-size="9.6" text-anchor="middle" fill="#111" stroke="#111" stroke-width="0.2">6</text><path d="M33.6,54.9H39.2" stroke="#444" stroke-width="1.1"/><text transform="translate(22.7,54.9) rotate(-90)" x="0" y="4.0" font-size="9.6" text-anchor="middle" fill="#111" stroke="#111" stroke-width="0.2">8</text><path d="M95,291.4V297.2" stroke="#444" stroke-width="1.1"/><text x="95" y="311.4" font-size="9" text-anchor="middle" fill="#111" stroke="#111" stroke-width="0.12">LGG</text><path d="M145,291.4V297.2" stroke="#444" stroke-width="1.1"/><text x="145" y="311.4" font-size="9" text-anchor="middle" fill="#111" stroke="#111" stroke-width="0.12">Normal</text><text x="120.15" y="322.9" font-size="9.2" text-anchor="middle" fill="#111" stroke="#111" stroke-width="0.12">(num(LGG)=518; num(Normal)=207)</text><path d="M95,37.2V31.7H115.4M124.8,31.7H145V140.8" stroke="#555" stroke-width="1.3" fill="none"/><text x="120" y="38.3" font-size="13.5" text-anchor="middle" fill="#f00" stroke="#f00" stroke-width="0.4">*</text><rect x="335.2" y="132.36" width="39.6" height="51.97" fill="#FC6462" stroke="#333" stroke-width="0.8"/><path d="M335.2,156.96H374.8" stroke="#000" stroke-width="2"/><path d="M345,77.26H365" stroke="#222" stroke-width="0.9"/><path d="M345,244.1H365" stroke="#222" stroke-width="0.9"/><path d="M335.2,281.7H374.8" stroke="#000" stroke-width="2.2"/><rect x="385.2" y="243.24" width="39.6" height="17.33" fill="#888888" stroke="#333" stroke-width="0.8"/><path d="M385.2,253.63H424.8" stroke="#000" stroke-width="2"/><path d="M395,219.68H415" stroke="#222" stroke-width="0.9"/><path d="M385.2,281.7H424.8" stroke="#000" stroke-width="2.2"/><g fill="#111"><circle cx="356.58" cy="171.33" r="0.95"/><circle cx="352.43" cy="165.55" r="0.95"/><circle cx="355.64" cy="118.56" r="0.95"/><circle cx="353.16" cy="139.1" r="0.95"/><circle cx="359.02" cy="139.22" r="0.95"/><circle cx="353.48" cy="86.07" r="0.95"/><circle cx="352.08" cy="190.13" r="0.95"/><circle cx="350.61" cy="156.18" r="0.95"/><circle cx="353.49" cy="219.93" r="0.95"/><circle cx="359.7" cy="168.7" r="0.95"/><circle cx="352.3" cy="99.7" r="0.95"/><circle cx="354.6" cy="221.99" r="0.95"/><circle cx="359.53" cy="131.31" r="0.95"/><circle cx="350.26" cy="116.17" r="0.95"/><circle cx="353.03" cy="156.08" r="0.95"/><circle cx="358.08" cy="125.92" r="0.95"/><circle cx="351.12" cy="163.42" r="0.95"/><circle cx="359.11" cy="173.02" r="0.95"/><circle cx="358.21" cy="156.4" r="0.95"/><circle cx="351.57" cy="194.44" r="0.95"/><circle cx="355.89" cy="178.04" r="0.95"/><circle cx="355.53" cy="178.27" r="0.95"/><circle cx="356.86" cy="83.43" r="0.95"/><circle cx="353.15" cy="175.01" r="0.95"/><circle cx="353.89" cy="188.14" r="0.95"/><circle cx="352.51" cy="102.45" r="0.95"/><circle cx="353" cy="206.9" r="0.95"/><circle cx="351.89" cy="95.68" r="0.95"/><circle cx="358.88" cy="118.27" r="0.95"/><circle cx="358.72" cy="142.49" r="0.95"/><circle cx="353.66" cy="164.86" r="0.95"/><circle cx="356.85" cy="193.92" r="0.95"/><circle cx="354.91" cy="215.88" r="0.95"/><circle cx="352.9" cy="216.58" r="0.95"/><circle cx="353.56" cy="173.48" r="0.95"/><circle cx="359.47" cy="167.13" r="0.95"/><circle cx="353.48" cy="106.07" r="0.95"/><circle cx="355.76" cy="153.4" r="0.95"/><circle cx="359.27" cy="82.13" r="0.95"/><circle cx="353.06" cy="135.22" r="0.95"/><circle cx="357.97" cy="204.76" r="0.95"/><circle cx="351.3" cy="151.69" r="0.95"/><circle cx="357.24" cy="201.79" r="0.95"/><circle cx="357.94" cy="235.55" r="0.95"/><circle cx="358.24" cy="101.4" r="0.95"/><circle cx="359.56" cy="174.71" r="0.95"/><circle cx="357.03" cy="195.51" r="0.95"/><circle cx="359.58" cy="217.1" r="0.95"/><circle cx="352.87" cy="141.99" r="0.95"/><circle cx="355.21" cy="161.21" r="0.95"/><circle cx="352.26" cy="241.56" r="0.95"/><circle cx="351" cy="135.78" r="0.95"/><circle cx="354.41" cy="183.6" r="0.95"/><circle cx="357.11" cy="128.23" r="0.95"/><circle cx="357.67" cy="158.21" r="0.95"/><circle cx="350.36" cy="153.46" r="0.95"/><circle cx="359.25" cy="161.65" r="0.95"/><circle cx="352.57" cy="139.64" r="0.95"/><circle cx="353.01" cy="82.44" r="0.95"/><circle cx="358.19" cy="125.89" r="0.95"/><circle cx="358.78" cy="227.23" r="0.95"/><circle cx="357.27" cy="157.53" r="0.95"/><circle cx="353.4" cy="187.16" r="0.95"/><circle cx="354.64" cy="216.93" r="0.95"/><circle cx="358.21" cy="194.35" r="0.95"/><circle cx="353.63" cy="184.67" r="0.95"/><circle cx="357.93" cy="97.26" r="0.95"/><circle cx="357.71" cy="132.86" r="0.95"/><circle cx="354.7" cy="118.33" r="0.95"/><circle cx="358.81" cy="137.39" r="0.95"/><circle cx="353.89" cy="177.14" r="0.95"/><circle cx="357.4" cy="168.88" r="0.95"/><circle cx="356.34" cy="163.46" r="0.95"/><circle cx="353.38" cy="179.58" r="0.95"/><circle cx="355.31" cy="165.56" r="0.95"/><circle cx="356.02" cy="129.5" r="0.95"/><circle cx="355.35" cy="225.17" r="0.95"/><circle cx="351.26" cy="181.42" r="0.95"/><circle cx="359.72" cy="159.26" r="0.95"/><circle cx="359.48" cy="139.62" r="0.95"/><circle cx="350.56" cy="142.6" r="0.95"/><circle cx="359.27" cy="134.82" r="0.95"/><circle cx="355.3" cy="216.14" r="0.95"/><circle cx="351.41" cy="197.34" r="0.95"/><circle cx="358.08" cy="177.88" r="0.95"/><circle cx="354.36" cy="180.86" r="0.95"/><circle cx="357.05" cy="131.6" r="0.95"/><circle cx="358.14" cy="80.74" r="0.95"/><circle cx="355.37" cy="138.94" r="0.95"/><circle cx="350.68" cy="236.89" r="0.95"/><circle cx="358.1" cy="179.12" r="0.95"/><circle cx="356.86" cy="125.19" r="0.95"/><circle cx="358.94" cy="105.97" r="0.95"/><circle cx="352.79" cy="147.62" r="0.95"/><circle cx="357.74" cy="173.51" r="0.95"/><circle cx="358.58" cy="172.82" r="0.95"/><circle cx="353.61" cy="143.83" r="0.95"/><circle cx="354.14" cy="116.39" r="0.95"/><circle cx="353.41" cy="174.39" r="0.95"/><circle cx="350.25" cy="195.28" r="0.95"/><circle cx="352.42" cy="243.5" r="0.95"/><circle cx="353.38" cy="207.21" r="0.95"/><circle cx="351.24" cy="118.64" r="0.95"/><circle cx="357.55" cy="144.7" r="0.95"/><circle cx="354.3" cy="82.13" r="0.95"/><circle cx="355.65" cy="227.12" r="0.95"/><circle cx="352.93" cy="171.63" r="0.95"/><circle cx="353.66" cy="126.18" r="0.95"/><circle cx="357.43" cy="141.1" r="0.95"/><circle cx="354.71" cy="227.99" r="0.95"/><circle cx="355.93" cy="167.75" r="0.95"/><circle cx="354.26" cy="143.42" r="0.95"/><circle cx="355.55" cy="138.48" r="0.95"/><circle cx="358.81" cy="162.25" r="0.95"/><circle cx="352.77" cy="195.8" r="0.95"/><circle cx="355.18" cy="95.65" r="0.95"/><circle cx="356.8" cy="160.63" r="0.95"/><circle cx="351.03" cy="135.57" r="0.95"/><circle cx="359.44" cy="153.53" r="0.95"/><circle cx="354.99" cy="223.62" r="0.95"/><circle cx="352.56" cy="186.73" r="0.95"/><circle cx="357.5" cy="229.13" r="0.95"/><circle cx="358.03" cy="195.26" r="0.95"/><circle cx="356.25" cy="193.31" r="0.95"/><circle cx="359" cy="166.28" r="0.95"/><circle cx="351.05" cy="176.48" r="0.95"/><circle cx="355.26" cy="172.01" r="0.95"/><circle cx="357.33" cy="123.32" r="0.95"/><circle cx="359" cy="239.44" r="0.95"/><circle cx="356.36" cy="216.66" r="0.95"/><circle cx="355.98" cy="124.55" r="0.95"/><circle cx="353.93" cy="153.62" r="0.95"/><circle cx="355.69" cy="163.65" r="0.95"/><circle cx="355.53" cy="182.44" r="0.95"/><circle cx="358.89" cy="152.8" r="0.95"/><circle cx="358.14" cy="189.46" r="0.95"/><circle cx="357.28" cy="117.4" r="0.95"/><circle cx="359.07" cy="122.35" r="0.95"/><circle cx="350.84" cy="176.47" r="0.95"/><circle cx="357.59" cy="238.76" r="0.95"/><circle cx="354.65" cy="112.32" r="0.95"/><circle cx="357.42" cy="179" r="0.95"/><circle cx="353.04" cy="141.52" r="0.95"/><circle cx="354.69" cy="117.43" r="0.95"/><circle cx="358.12" cy="125.82" r="0.95"/><circle cx="350.54" cy="116.68" r="0.95"/><circle cx="352.99" cy="158.15" r="0.95"/><circle cx="354.89" cy="119.89" r="0.95"/><circle cx="358.37" cy="161.21" r="0.95"/><circle cx="352.79" cy="182.82" r="0.95"/><circle cx="358.1" cy="159.04" r="0.95"/><circle cx="352.55" cy="174.98" r="0.95"/><circle cx="353.11" cy="130.04" r="0.95"/><circle cx="355.52" cy="121.32" r="0.95"/><circle cx="356.48" cy="206.19" r="0.95"/><circle cx="358.65" cy="200.74" r="0.95"/><circle cx="358.64" cy="169.7" r="0.95"/><circle cx="352.6" cy="160.98" r="0.95"/><circle cx="357.36" cy="98.14" r="0.95"/><circle cx="356.3" cy="101.95" r="0.95"/><circle cx="403.91" cy="224.89" r="0.95"/><circle cx="407.65" cy="244.05" r="0.95"/><circle cx="408.82" cy="246.16" r="0.95"/><circle cx="404.8" cy="259.97" r="0.95"/><circle cx="408.99" cy="256.99" r="0.95"/><circle cx="401.43" cy="275.21" r="0.95"/><circle cx="401.8" cy="237.68" r="0.95"/><circle cx="407.54" cy="259.8" r="0.95"/><circle cx="403.13" cy="266.17" r="0.95"/><circle cx="405.82" cy="258.65" r="0.95"/><circle cx="404.97" cy="258.43" r="0.95"/><circle cx="401.6" cy="244.28" r="0.95"/><circle cx="407.44" cy="274.52" r="0.95"/><circle cx="407.32" cy="261.22" r="0.95"/><circle cx="401.59" cy="233.43" r="0.95"/><circle cx="402.69" cy="236.21" r="0.95"/><circle cx="407.89" cy="248.1" r="0.95"/><circle cx="408.96" cy="250.92" r="0.95"/><circle cx="408.55" cy="261.46" r="0.95"/><circle cx="405.02" cy="234.86" r="0.95"/><circle cx="403.73" cy="242.52" r="0.95"/><circle cx="404.47" cy="252.77" r="0.95"/><circle cx="401.89" cy="263.47" r="0.95"/><circle cx="404.96" cy="261.68" r="0.95"/><circle cx="402.42" cy="256.8" r="0.95"/><circle cx="401.75" cy="258.2" r="0.95"/><circle cx="403.85" cy="267.75" r="0.95"/><circle cx="400.81" cy="256.01" r="0.95"/><circle cx="404.72" cy="254.78" r="0.95"/><circle cx="406.88" cy="259.48" r="0.95"/><circle cx="406.45" cy="256.65" r="0.95"/><circle cx="409.56" cy="258.17" r="0.95"/><circle cx="408.7" cy="256.87" r="0.95"/><circle cx="406.28" cy="248.5" r="0.95"/><circle cx="408.82" cy="253.36" r="0.95"/><circle cx="404.47" cy="262.27" r="0.95"/><circle cx="407.87" cy="240.21" r="0.95"/><circle cx="402.93" cy="252.76" r="0.95"/><circle cx="405.26" cy="254.5" r="0.95"/><circle cx="409.61" cy="244.71" r="0.95"/><circle cx="405.95" cy="243.1" r="0.95"/><circle cx="405.07" cy="236.6" r="0.95"/><circle cx="407.76" cy="239.14" r="0.95"/><circle cx="403.2" cy="246.49" r="0.95"/><circle cx="408.18" cy="244.4" r="0.95"/><circle cx="400.38" cy="263.59" r="0.95"/><circle cx="402.49" cy="245.28" r="0.95"/><circle cx="401.9" cy="260.43" r="0.95"/><circle cx="402.67" cy="260.34" r="0.95"/><circle cx="409.28" cy="264.8" r="0.95"/><circle cx="400.43" cy="256.29" r="0.95"/><circle cx="403.07" cy="271.33" r="0.95"/><circle cx="405.71" cy="246.98" r="0.95"/><circle cx="406.95" cy="243.31" r="0.95"/><circle cx="407.63" cy="241.53" r="0.95"/><circle cx="403.88" cy="264.51" r="0.95"/><circle cx="402.31" cy="247.62" r="0.95"/><circle cx="408.38" cy="237.32" r="0.95"/><circle cx="401.37" cy="269.92" r="0.95"/><circle cx="400.82" cy="262.41" r="0.95"/><circle cx="402.42" cy="260.05" r="0.95"/><circle cx="404.93" cy="254.39" r="0.95"/><circle cx="409.24" cy="263.1" r="0.95"/><circle cx="407.2" cy="251.72" r="0.95"/><circle cx="405.61" cy="257.83" r="0.95"/><circle cx="405.2" cy="247.05" r="0.95"/><circle cx="406.86" cy="252.03" r="0.95"/><circle cx="406.21" cy="245.8" r="0.95"/><circle cx="403.43" cy="260.68" r="0.95"/><circle cx="401.09" cy="244.96" r="0.95"/><circle cx="402.13" cy="243.86" r="0.95"/><circle cx="407.71" cy="244.37" r="0.95"/><circle cx="406.29" cy="267.11" r="0.95"/><circle cx="407.85" cy="227.48" r="0.95"/><circle cx="400.63" cy="250.2" r="0.95"/><circle cx="408.85" cy="259.91" r="0.95"/><circle cx="403.87" cy="255.2" r="0.95"/><circle cx="409.09" cy="252.58" r="0.95"/><circle cx="405.91" cy="252.57" r="0.95"/><circle cx="405.45" cy="260.63" r="0.95"/><circle cx="408.05" cy="260.13" r="0.95"/><circle cx="406.2" cy="257.26" r="0.95"/><circle cx="406.68" cy="241.17" r="0.95"/><circle cx="401.71" cy="255.11" r="0.95"/><circle cx="406" cy="269.69" r="0.95"/><circle cx="403.62" cy="254.68" r="0.95"/><circle cx="400.93" cy="262.15" r="0.95"/><circle cx="401.48" cy="273.01" r="0.95"/><circle cx="404.81" cy="223.39" r="0.95"/><circle cx="402.72" cy="259.29" r="0.95"/><circle cx="407.55" cy="251.78" r="0.95"/><circle cx="401.38" cy="257.41" r="0.95"/><circle cx="400.33" cy="268.41" r="0.95"/><circle cx="409.77" cy="233.08" r="0.95"/><circle cx="403.2" cy="228.78" r="0.95"/><circle cx="405.09" cy="262.64" r="0.95"/><circle cx="402.22" cy="255.67" r="0.95"/><circle cx="402.2" cy="256.96" r="0.95"/><circle cx="404.06" cy="263.26" r="0.95"/><circle cx="407.78" cy="246.79" r="0.95"/><circle cx="400.57" cy="241.1" r="0.95"/><circle cx="408.24" cy="242.59" r="0.95"/><circle cx="409.71" cy="246.24" r="0.95"/><circle cx="405.57" cy="271.87" r="0.95"/><circle cx="403.66" cy="261.23" r="0.95"/><circle cx="402.45" cy="252.7" r="0.95"/><circle cx="401.96" cy="245.13" r="0.95"/><circle cx="403.3" cy="256.59" r="0.95"/><circle cx="408.38" cy="254.76" r="0.95"/><circle cx="400.23" cy="237.16" r="0.95"/><circle cx="407.75" cy="271" r="0.95"/><circle cx="406.61" cy="260.02" r="0.95"/><circle cx="400.38" cy="259.4" r="0.95"/><circle cx="400.87" cy="220.84" r="0.95"/><circle cx="407.26" cy="261.3" r="0.95"/><circle cx="406.66" cy="268.96" r="0.95"/><circle cx="403.21" cy="255.72" r="0.95"/><circle cx="408.47" cy="247.28" r="0.95"/><circle cx="402.22" cy="263.71" r="0.95"/><circle cx="404.3" cy="237.23" r="0.95"/><circle cx="401.3" cy="262.31" r="0.95"/><circle cx="406.4" cy="245.08" r="0.95"/><circle cx="401.04" cy="263.44" r="0.95"/><circle cx="401.92" cy="234.41" r="0.95"/><circle cx="407.56" cy="262.15" r="0.95"/><circle cx="405" cy="243.99" r="0.95"/><circle cx="406.55" cy="237.3" r="0.95"/><circle cx="407.25" cy="260.42" r="0.95"/><circle cx="406.02" cy="265.69" r="0.95"/><circle cx="402.1" cy="249.82" r="0.95"/><circle cx="406.91" cy="253.32" r="0.95"/><circle cx="401.31" cy="253.89" r="0.95"/><circle cx="402.79" cy="241.14" r="0.95"/><circle cx="404.5" cy="254.36" r="0.95"/><circle cx="401.3" cy="253.37" r="0.95"/><circle cx="401.22" cy="253.66" r="0.95"/><circle cx="406.46" cy="254.61" r="0.95"/><circle cx="407.32" cy="256.03" r="0.95"/><circle cx="403.76" cy="263.47" r="0.95"/><circle cx="403.94" cy="259.24" r="0.95"/><circle cx="402.19" cy="260.13" r="0.95"/><circle cx="405.21" cy="260.62" r="0.95"/><circle cx="405.77" cy="241.04" r="0.95"/><circle cx="409.16" cy="265" r="0.95"/><circle cx="400.59" cy="262.02" r="0.95"/><circle cx="408.92" cy="252.23" r="0.95"/><circle cx="409.71" cy="258.74" r="0.95"/><circle cx="403.52" cy="260.88" r="0.95"/><circle cx="407.17" cy="256.97" r="0.95"/><circle cx="408.12" cy="253.21" r="0.95"/><circle cx="406.45" cy="246.28" r="0.95"/><circle cx="402.97" cy="224.17" r="0.95"/><circle cx="406.18" cy="236.36" r="0.95"/><circle cx="408.62" cy="255.32" r="0.95"/><circle cx="401.23" cy="254.69" r="0.95"/><circle cx="404.81" cy="255.74" r="0.95"/><circle cx="400.42" cy="260.92" r="0.95"/><circle cx="408.31" cy="226.78" r="0.95"/><circle cx="407.67" cy="267.09" r="0.95"/><circle cx="400.64" cy="262.03" r="0.95"/><circle cx="407.36" cy="246.78" r="0.95"/><circle cx="406.84" cy="249.69" r="0.95"/><circle cx="401.41" cy="259.73" r="0.95"/><circle cx="405.24" cy="228.62" r="0.95"/><circle cx="406.82" cy="255.92" r="0.95"/><circle cx="403.42" cy="249.42" r="0.95"/><circle cx="405.04" cy="265.75" r="0.95"/><circle cx="409.57" cy="233.8" r="0.95"/><circle cx="406.3" cy="265.36" r="0.95"/><circle cx="405.02" cy="256.37" r="0.95"/><circle cx="400.83" cy="234.16" r="0.95"/><circle cx="401.36" cy="227.62" r="0.95"/><circle cx="408.37" cy="232.7" r="0.95"/><circle cx="407.33" cy="238.04" r="0.95"/><circle cx="408.22" cy="261.11" r="0.95"/><circle cx="405.75" cy="270.28" r="0.95"/><circle cx="405.73" cy="254.69" r="0.95"/><circle cx="405.29" cy="267.56" r="0.95"/><circle cx="407.26" cy="225.7" r="0.95"/><circle cx="403.37" cy="273.97" r="0.95"/><circle cx="404.97" cy="258.37" r="0.95"/><circle cx="404.71" cy="262.09" r="0.95"/><circle cx="406.55" cy="272.73" r="0.95"/><circle cx="402.28" cy="253.31" r="0.95"/><circle cx="400.44" cy="266.45" r="0.95"/><circle cx="401.05" cy="233.19" r="0.95"/><circle cx="401.92" cy="245.75" r="0.95"/><circle cx="408.43" cy="257.07" r="0.95"/><circle cx="407.08" cy="237.1" r="0.95"/><circle cx="407.4" cy="240.1" r="0.95"/><circle cx="404.46" cy="258.34" r="0.95"/><circle cx="401.19" cy="236.73" r="0.95"/><circle cx="404.67" cy="229.55" r="0.95"/><circle cx="408.48" cy="248.47" r="0.95"/><circle cx="405.09" cy="257.6" r="0.95"/><circle cx="406.27" cy="233.12" r="0.95"/><circle cx="403.79" cy="227.89" r="0.95"/><circle cx="401.64" cy="257.73" r="0.95"/><circle cx="406.22" cy="265.9" r="0.95"/><circle cx="404.86" cy="235.35" r="0.95"/><circle cx="356.5" cy="43.6" r="1.0"/><circle cx="351.8" cy="53.3" r="1.0"/><circle cx="356" cy="79.5" r="1.0"/><circle cx="353.6" cy="83" r="1.0"/><circle cx="357.4" cy="88" r="1.0"/><circle cx="355.2" cy="243" r="1.0"/><circle cx="405.8" cy="117.2" r="1.0"/><circle cx="407.3" cy="123.4" r="1.0"/><circle cx="400" cy="168.9" r="1.0"/><circle cx="404.9" cy="170.2" r="1.0"/><circle cx="403.1" cy="208.5" r="1.0"/><circle cx="405.5" cy="212.7" r="1.0"/><circle cx="405.5" cy="215.9" r="1.0"/></g><rect x="299" y="21.7" width="161.6" height="269.7" fill="none" stroke="#444" stroke-width="1.2"/><path d="M293.4,281.7H299" stroke="#444" stroke-width="1.1"/><text transform="translate(282.5,281.7) rotate(-90)" x="0" y="4.0" font-size="9.6" text-anchor="middle" fill="#111" stroke="#111" stroke-width="0.2">0</text><path d="M293.4,212.4H299" stroke="#444" stroke-width="1.1"/><text transform="translate(282.5,212.4) rotate(-90)" x="0" y="4.0" font-size="9.6" text-anchor="middle" fill="#111" stroke="#111" stroke-width="0.2">2</text><path d="M293.4,143.1H299" stroke="#444" stroke-width="1.1"/><text transform="translate(282.5,143.1) rotate(-90)" x="0" y="4.0" font-size="9.6" text-anchor="middle" fill="#111" stroke="#111" stroke-width="0.2">4</text><path d="M293.4,73.8H299" stroke="#444" stroke-width="1.1"/><text transform="translate(282.5,73.8) rotate(-90)" x="0" y="4.0" font-size="9.6" text-anchor="middle" fill="#111" stroke="#111" stroke-width="0.2">6</text><path d="M355,291.4V297.2" stroke="#444" stroke-width="1.1"/><text x="355" y="311.4" font-size="9" text-anchor="middle" fill="#111" stroke="#111" stroke-width="0.12">GBM</text><path d="M405,291.4V297.2" stroke="#444" stroke-width="1.1"/><text x="405" y="311.4" font-size="9" text-anchor="middle" fill="#111" stroke="#111" stroke-width="0.12">Normal</text><text x="379.8" y="322.9" font-size="9.2" text-anchor="middle" fill="#111" stroke="#111" stroke-width="0.12">(num(GBM)=163; num(Normal)=207)</text><path d="M354.5,37.6V31.8H375.3M384.5,31.8H404.8V111" stroke="#555" stroke-width="1.3" fill="none"/><text x="379.9" y="38.3" font-size="13.5" text-anchor="middle" fill="#f00" stroke="#f00" stroke-width="0.4">*</text><text transform="translate(2.4,15.6) scale(0.93,1)" x="0" y="0" font-size="20" fill="#000" stroke="#000" stroke-width="0.3">a</text><text x="39.5" y="377.5" font-size="20" fill="#000" stroke="#000" stroke-width="0.3">b</text><path d="M121,384C121.1,385.83 120.98,392.08 121,395C121.02,397.92 121.05,399 121.1,401.5C121.15,404 121.25,407.75 121.3,410C121.35,412.25 121.28,413.45 121.4,415C121.52,416.55 121.68,417.87 122,419.3C122.32,420.73 122.85,422.17 123.3,423.6C123.75,425.03 124.2,426.47 124.7,427.9C125.2,429.33 125.78,430.77 126.3,432.2C126.82,433.63 127.37,435.07 127.8,436.5C128.23,437.93 128.6,439.38 128.9,440.8C129.2,442.22 129.4,443.58 129.6,445C129.8,446.42 129.97,447.87 130.1,449.3C130.23,450.73 130.25,452.05 130.4,453.6C130.55,455.15 130.6,457.05 131,458.6C131.4,460.15 132.15,461.47 132.8,462.9C133.45,464.33 134.27,465.77 134.9,467.2C135.53,468.63 136.1,470.07 136.6,471.5C137.1,472.93 137.54,474.38 137.9,475.8C138.26,477.22 138.7,478.58 138.75,480C138.8,481.42 138.57,482.87 138.2,484.3C137.82,485.73 137.48,487.17 136.5,488.6C135.52,490.03 133.57,491.47 132.3,492.9C131.03,494.33 130.03,495.77 128.9,497.2C127.77,498.63 126.52,500.07 125.5,501.5C124.48,502.93 123.43,504.57 122.8,505.8C122.17,507.03 122.22,508.38 121.7,508.9C121.18,509.42 120.22,509.42 119.7,508.9C119.18,508.38 119.23,507.03 118.6,505.8C117.97,504.57 116.92,502.93 115.9,501.5C114.88,500.07 113.63,498.63 112.5,497.2C111.37,495.77 110.37,494.33 109.1,492.9C107.83,491.47 105.88,490.03 104.9,488.6C103.92,487.17 103.58,485.73 103.2,484.3C102.83,482.87 102.6,481.42 102.65,480C102.7,478.58 103.14,477.22 103.5,475.8C103.86,474.38 104.3,472.93 104.8,471.5C105.3,470.07 105.87,468.63 106.5,467.2C107.13,465.77 107.95,464.33 108.6,462.9C109.25,461.47 110,460.15 110.4,458.6C110.8,457.05 110.85,455.15 111,453.6C111.15,452.05 111.17,450.73 111.3,449.3C111.43,447.87 111.6,446.42 111.8,445C112,443.58 112.2,442.22 112.5,440.8C112.8,439.38 113.17,437.93 113.6,436.5C114.03,435.07 114.58,433.63 115.1,432.2C115.62,430.77 116.2,429.33 116.7,427.9C117.2,426.47 117.65,425.03 118.1,423.6C118.55,422.17 119.08,420.73 119.4,419.3C119.72,417.87 119.88,416.55 120,415C120.12,413.45 120.05,412.25 120.1,410C120.15,407.75 120.25,404 120.3,401.5C120.35,399 120.38,397.92 120.4,395C120.42,392.08 120.3,385.83 120.4,384C120.5,382.17 120.9,382.17 121,384Z" fill="#7DAFD2" stroke="#2a2a2a" stroke-width="1.0" stroke-linejoin="round"/><path d="M184.4,409.9C184.68,410.87 184.03,414.18 184.1,415.7C184.17,417.22 184.52,418.1 184.8,419C185.08,419.9 185.2,419.85 185.8,421.1C186.4,422.35 187.33,424.72 188.4,426.5C189.47,428.28 190.77,430.02 192.2,431.8C193.63,433.58 195.48,435.4 197,437.2C198.52,439 200.17,441.3 201.3,442.6C202.43,443.9 203.02,444.12 203.8,445C204.58,445.88 205.3,446.7 206,447.9C206.7,449.1 207.73,451.08 208,452.2C208.27,453.32 207.95,453.8 207.6,454.6C207.25,455.4 206.58,456 205.9,457C205.22,458 204.18,459.4 203.5,460.6C202.82,461.8 202.35,463 201.8,464.2C201.25,465.4 200.92,466.6 200.2,467.8C199.48,469 198.65,470.2 197.5,471.4C196.35,472.6 194.65,473.78 193.3,475C191.95,476.22 190.43,477.48 189.4,478.7C188.37,479.92 187.6,481.1 187.1,482.3C186.6,483.5 186.62,484.92 186.4,485.9C186.18,486.88 186.02,487.62 185.8,488.2C185.58,488.78 185.78,489.2 185.1,489.4C184.42,489.6 182.38,489.6 181.7,489.4C181.02,489.2 181.22,488.78 181,488.2C180.78,487.62 180.62,486.88 180.4,485.9C180.18,484.92 180.2,483.5 179.7,482.3C179.2,481.1 178.43,479.92 177.4,478.7C176.37,477.48 174.85,476.22 173.5,475C172.15,473.78 170.45,472.6 169.3,471.4C168.15,470.2 167.32,469 166.6,467.8C165.88,466.6 165.55,465.4 165,464.2C164.45,463 163.98,461.8 163.3,460.6C162.62,459.4 161.58,458 160.9,457C160.22,456 159.55,455.4 159.2,454.6C158.85,453.8 158.53,453.32 158.8,452.2C159.07,451.08 160.1,449.1 160.8,447.9C161.5,446.7 162.22,445.88 163,445C163.78,444.12 164.37,443.9 165.5,442.6C166.63,441.3 168.28,439 169.8,437.2C171.32,435.4 173.17,433.58 174.6,431.8C176.03,430.02 177.33,428.28 178.4,426.5C179.47,424.72 180.4,422.35 181,421.1C181.6,419.85 181.72,419.9 182,419C182.28,418.1 182.63,417.22 182.7,415.7C182.77,414.18 182.12,410.87 182.4,409.9C182.68,408.93 184.12,408.93 184.4,409.9Z" fill="#F9BAB5" stroke="#2a2a2a" stroke-width="1.0" stroke-linejoin="round"/><path d="M120.7,441.8V502.3M119.5,441.8H121.9M119.5,502.3H121.9" stroke="#1a1a1a" stroke-width="0.9" fill="none"/><path d="M112.9,472.3H128.5" stroke="#1a1a1a" stroke-width="1.3" fill="none"/><path d="M183.4,434.2V473.8M182.2,434.2H184.6M182.2,473.8H184.6" stroke="#1a1a1a" stroke-width="0.9" fill="none"/><path d="M175.6,454H191.2" stroke="#1a1a1a" stroke-width="1.3" fill="none"/><path d="M82.8,370.3V516.3H220.8" stroke="#222" stroke-width="1.2" fill="none"/><path d="M80,516.3H82.8" stroke="#222" stroke-width="1"/><text x="77" y="519" font-size="7.6" text-anchor="end" fill="#111" stroke="#111" stroke-width="0.3">0</text><path d="M80,487.16H82.8" stroke="#222" stroke-width="1"/><text x="77" y="489.86" font-size="7.6" text-anchor="end" fill="#111" stroke="#111" stroke-width="0.3">2</text><path d="M80,458.02H82.8" stroke="#222" stroke-width="1"/><text x="77" y="460.72" font-size="7.6" text-anchor="end" fill="#111" stroke="#111" stroke-width="0.3">4</text><path d="M80,428.88H82.8" stroke="#222" stroke-width="1"/><text x="77" y="431.58" font-size="7.6" text-anchor="end" fill="#111" stroke="#111" stroke-width="0.3">6</text><path d="M80,399.74H82.8" stroke="#222" stroke-width="1"/><text x="77" y="402.44" font-size="7.6" text-anchor="end" fill="#111" stroke="#111" stroke-width="0.3">8</text><path d="M80,370.6H82.8" stroke="#222" stroke-width="1"/><text x="77" y="373.3" font-size="7.6" text-anchor="end" fill="#111" stroke="#111" stroke-width="0.3">10</text><path d="M120.75,516.3V519.6" stroke="#222" stroke-width="1"/><text x="120.75" y="528.3" font-size="8" text-anchor="middle" fill="#111" stroke="#111" stroke-width="0.25">G2&amp;G3</text><path d="M183.3,516.3V519.6" stroke="#222" stroke-width="1"/><text x="183.3" y="528.3" font-size="8" text-anchor="middle" fill="#111" stroke="#111" stroke-width="0.25">G4</text><text x="151.8" y="540.2" font-size="9" text-anchor="middle" fill="#111" stroke="#111" stroke-width="0.2">WHO grade</text><text transform="translate(51.6,442.6) rotate(-90)" x="0" y="0" font-size="8.9" text-anchor="middle" fill="#111" stroke="#111" stroke-width="0.25">The expression of ECM2</text><text transform="translate(59.8,442.6) rotate(-90)" x="0" y="0" font-size="9.1" text-anchor="middle" fill="#111" stroke="#111" stroke-width="0.25">Log<tspan font-size="7.6" dy="2.3">2</tspan><tspan dy="-2.3"> (TPM+1)</tspan></text><path d="M120.5,390V382H183.4V384.8" stroke="#222" stroke-width="1.2" fill="none"/><text x="152.6" y="382.7" font-size="6.3" text-anchor="middle" fill="#222" stroke="#222" stroke-width="0.45" letter-spacing="0.55">***</text><path d="M330.2,421.1C330.34,421.87 330.33,424.28 330.45,425.7C330.57,427.12 330.76,428.3 330.9,429.6C331.04,430.9 331.13,432.22 331.3,433.5C331.47,434.78 331.7,436.02 331.9,437.3C332.1,438.58 332.28,439.92 332.5,441.2C332.72,442.48 333,443.72 333.2,445C333.4,446.28 333.5,447.6 333.7,448.9C333.9,450.2 334.18,451.52 334.4,452.8C334.62,454.08 334.7,455.08 335,456.6C335.3,458.12 335.83,460.38 336.2,461.9C336.57,463.42 336.8,464.42 337.2,465.7C337.6,466.98 338.17,468.3 338.6,469.6C339.03,470.9 339.33,472.22 339.8,473.5C340.27,474.78 340.93,476.02 341.4,477.3C341.87,478.58 342.23,479.92 342.6,481.2C342.97,482.48 343.4,483.72 343.6,485C343.8,486.28 343.95,487.6 343.8,488.9C343.65,490.2 343.12,491.52 342.7,492.8C342.28,494.08 342.22,495.13 341.3,496.6C340.38,498.07 338.55,500.12 337.2,501.6C335.85,503.08 334.12,504.47 333.2,505.5C332.28,506.53 332.08,507.12 331.7,507.8C331.32,508.48 331.37,509.3 330.9,509.6C330.43,509.9 329.37,509.9 328.9,509.6C328.43,509.3 328.48,508.48 328.1,507.8C327.72,507.12 327.52,506.53 326.6,505.5C325.68,504.47 323.95,503.08 322.6,501.6C321.25,500.12 319.42,498.07 318.5,496.6C317.58,495.13 317.52,494.08 317.1,492.8C316.68,491.52 316.15,490.2 316,488.9C315.85,487.6 316,486.28 316.2,485C316.4,483.72 316.83,482.48 317.2,481.2C317.57,479.92 317.93,478.58 318.4,477.3C318.87,476.02 319.53,474.78 320,473.5C320.47,472.22 320.77,470.9 321.2,469.6C321.63,468.3 322.2,466.98 322.6,465.7C323,464.42 323.23,463.42 323.6,461.9C323.97,460.38 324.5,458.12 324.8,456.6C325.1,455.08 325.18,454.08 325.4,452.8C325.62,451.52 325.9,450.2 326.1,448.9C326.3,447.6 326.4,446.28 326.6,445C326.8,443.72 327.08,442.48 327.3,441.2C327.52,439.92 327.7,438.58 327.9,437.3C328.1,436.02 328.33,434.78 328.5,433.5C328.67,432.22 328.76,430.9 328.9,429.6C329.04,428.3 329.23,427.12 329.35,425.7C329.47,424.28 329.46,421.87 329.6,421.1C329.74,420.33 330.06,420.33 330.2,421.1Z" fill="#7DAFD2" stroke="#2a2a2a" stroke-width="1.0" stroke-linejoin="round"/><path d="M373.2,398.6C373.3,399.67 373.2,402.77 373.2,405C373.2,407.23 373.17,409.83 373.2,412C373.23,414.17 373.3,416 373.4,418C373.5,420 373.67,422.33 373.8,424C373.93,425.67 374.07,426.73 374.2,428C374.33,429.27 374.43,430.35 374.6,431.6C374.77,432.85 374.93,434.22 375.2,435.5C375.47,436.78 375.78,438.02 376.2,439.3C376.62,440.58 377.22,441.92 377.7,443.2C378.18,444.48 378.72,445.72 379.1,447C379.48,448.28 379.77,449.6 380,450.9C380.23,452.2 380.37,453.52 380.5,454.8C380.63,456.08 380.67,457.08 380.8,458.6C380.93,460.12 381.07,462.38 381.3,463.9C381.53,465.42 381.88,466.42 382.2,467.7C382.52,468.98 382.87,470.3 383.2,471.6C383.53,472.9 383.97,474.22 384.2,475.5C384.43,476.78 384.55,478.02 384.6,479.3C384.65,480.58 384.72,481.92 384.5,483.2C384.28,484.48 383.82,485.72 383.3,487C382.78,488.28 382.07,489.6 381.4,490.9C380.73,492.2 379.98,493.52 379.3,494.8C378.62,496.08 377.98,497.47 377.3,498.6C376.62,499.73 375.7,500.45 375.2,501.6C374.7,502.75 374.52,504.37 374.3,505.5C374.08,506.63 374.3,507.92 373.9,508.4C373.5,508.88 372.3,508.88 371.9,508.4C371.5,507.92 371.72,506.63 371.5,505.5C371.28,504.37 371.1,502.75 370.6,501.6C370.1,500.45 369.18,499.73 368.5,498.6C367.82,497.47 367.18,496.08 366.5,494.8C365.82,493.52 365.07,492.2 364.4,490.9C363.73,489.6 363.02,488.28 362.5,487C361.98,485.72 361.52,484.48 361.3,483.2C361.08,481.92 361.15,480.58 361.2,479.3C361.25,478.02 361.37,476.78 361.6,475.5C361.83,474.22 362.27,472.9 362.6,471.6C362.93,470.3 363.28,468.98 363.6,467.7C363.92,466.42 364.27,465.42 364.5,463.9C364.73,462.38 364.87,460.12 365,458.6C365.13,457.08 365.17,456.08 365.3,454.8C365.43,453.52 365.57,452.2 365.8,450.9C366.03,449.6 366.32,448.28 366.7,447C367.08,445.72 367.62,444.48 368.1,443.2C368.58,441.92 369.18,440.58 369.6,439.3C370.02,438.02 370.33,436.78 370.6,435.5C370.87,434.22 371.03,432.85 371.2,431.6C371.37,430.35 371.47,429.27 371.6,428C371.73,426.73 371.87,425.67 372,424C372.13,422.33 372.3,420 372.4,418C372.5,416 372.57,414.17 372.6,412C372.63,409.83 372.6,407.23 372.6,405C372.6,402.77 372.5,399.67 372.6,398.6C372.7,397.53 373.1,397.53 373.2,398.6Z" fill="#F9BAB5" stroke="#2a2a2a" stroke-width="1.0" stroke-linejoin="round"/><path d="M416.6,421.1C416.82,422.02 416.33,424.97 416.5,426.6C416.67,428.23 417.12,429.47 417.6,430.9C418.08,432.33 418.75,433.77 419.4,435.2C420.05,436.63 420.72,438.07 421.5,439.5C422.28,440.93 423.23,442.38 424.1,443.8C424.97,445.22 425.8,446.58 426.7,448C427.6,449.42 428.62,450.87 429.5,452.3C430.38,453.73 431.38,455.57 432,456.6C432.62,457.63 433.4,457.33 433.2,458.5C433,459.67 431.53,462.03 430.8,463.6C430.07,465.17 429.42,466.47 428.8,467.9C428.18,469.33 427.73,470.77 427.1,472.2C426.47,473.63 425.93,475.07 425,476.5C424.07,477.93 422.52,479.38 421.5,480.8C420.48,482.22 419.52,483.58 418.9,485C418.28,486.42 418.1,488.2 417.8,489.3C417.5,490.4 417.62,491.22 417.1,491.6C416.58,491.98 415.22,491.98 414.7,491.6C414.18,491.22 414.3,490.4 414,489.3C413.7,488.2 413.52,486.42 412.9,485C412.28,483.58 411.32,482.22 410.3,480.8C409.28,479.38 407.73,477.93 406.8,476.5C405.87,475.07 405.33,473.63 404.7,472.2C404.07,470.77 403.62,469.33 403,467.9C402.38,466.47 401.73,465.17 401,463.6C400.27,462.03 398.8,459.67 398.6,458.5C398.4,457.33 399.18,457.63 399.8,456.6C400.42,455.57 401.42,453.73 402.3,452.3C403.18,450.87 404.2,449.42 405.1,448C406,446.58 406.83,445.22 407.7,443.8C408.57,442.38 409.52,440.93 410.3,439.5C411.08,438.07 411.75,436.63 412.4,435.2C413.05,433.77 413.72,432.33 414.2,430.9C414.68,429.47 415.13,428.23 415.3,426.6C415.47,424.97 414.98,422.02 415.2,421.1C415.42,420.18 416.38,420.18 416.6,421.1Z" fill="#DCDAEC" stroke="#2a2a2a" stroke-width="1.0" stroke-linejoin="round"/><path d="M329.9,458.1V504.5M328.7,458.1H331.1M328.7,504.5H331.1" stroke="#1a1a1a" stroke-width="0.9" fill="none"/><path d="M324.5,481.3H335.3" stroke="#1a1a1a" stroke-width="1.3" fill="none"/><path d="M372.9,444.5V501.6M371.7,444.5H374.1M371.7,501.6H374.1" stroke="#1a1a1a" stroke-width="0.9" fill="none"/><path d="M367.3,472.75H378.5" stroke="#1a1a1a" stroke-width="1.3" fill="none"/><path d="M415.9,442.9V478.2M414.7,442.9H417.1M414.7,478.2H417.1" stroke="#1a1a1a" stroke-width="0.9" fill="none"/><path d="M410.2,460.6H421.6" stroke="#1a1a1a" stroke-width="1.3" fill="none"/><path d="M303.8,370.9V516.1H441.3" stroke="#222" stroke-width="1.2" fill="none"/><path d="M301,516.1H303.8" stroke="#222" stroke-width="1"/><text x="298" y="518.8" font-size="7.6" text-anchor="end" fill="#111" stroke="#111" stroke-width="0.3">0</text><path d="M301,489.84H303.8" stroke="#222" stroke-width="1"/><text x="298" y="492.54" font-size="7.6" text-anchor="end" fill="#111" stroke="#111" stroke-width="0.3">2</text><path d="M301,463.58H303.8" stroke="#222" stroke-width="1"/><text x="298" y="466.28" font-size="7.6" text-anchor="end" fill="#111" stroke="#111" stroke-width="0.3">4</text><path d="M301,437.32H303.8" stroke="#222" stroke-width="1"/><text x="298" y="440.02" font-size="7.6" text-anchor="end" fill="#111" stroke="#111" stroke-width="0.3">6</text><path d="M301,411.06H303.8" stroke="#222" stroke-width="1"/><text x="298" y="413.76" font-size="7.6" text-anchor="end" fill="#111" stroke="#111" stroke-width="0.3">8</text><path d="M301,384.8H303.8" stroke="#222" stroke-width="1"/><text x="298" y="387.5" font-size="7.6" text-anchor="end" fill="#111" stroke="#111" stroke-width="0.3">10</text><path d="M329.6,516.1V519.4" stroke="#222" stroke-width="1"/><text x="329.6" y="528.3" font-size="8" text-anchor="middle" fill="#111" stroke="#111" stroke-width="0.25">G2</text><path d="M372.6,516.1V519.4" stroke="#222" stroke-width="1"/><text x="372.6" y="528.3" font-size="8" text-anchor="middle" fill="#111" stroke="#111" stroke-width="0.25">G3</text><path d="M416,516.1V519.4" stroke="#222" stroke-width="1"/><text x="416" y="528.3" font-size="8" text-anchor="middle" fill="#111" stroke="#111" stroke-width="0.25">G4</text><text x="372.55" y="540.2" font-size="9" text-anchor="middle" fill="#111" stroke="#111" stroke-width="0.2">WHO grade</text><text transform="translate(272.6,442.6) rotate(-90)" x="0" y="0" font-size="8.9" text-anchor="middle" fill="#111" stroke="#111" stroke-width="0.25">The expression of ECM2</text><text transform="translate(280.8,442.6) rotate(-90)" x="0" y="0" font-size="9.1" text-anchor="middle" fill="#111" stroke="#111" stroke-width="0.25">Log<tspan font-size="7.6" dy="2.3">2</tspan><tspan dy="-2.3"> (TPM+1)</tspan></text><path d="M372.5,377.5V374.6H415.8V377.5" stroke="#222" stroke-width="1.2" fill="none"/><path d="M329.5,387.5V384.3H415.8V387.5" stroke="#222" stroke-width="1.2" fill="none"/><path d="M329.5,394.8V391.9H372.7V394.5" stroke="#222" stroke-width="1.2" fill="none"/><text x="395.2" y="375.6" font-size="6.3" text-anchor="middle" fill="#222" stroke="#222" stroke-width="0.45" letter-spacing="0.55">***</text><text x="373.3" y="385.6" font-size="6.3" text-anchor="middle" fill="#222" stroke="#222" stroke-width="0.45" letter-spacing="0.55">***</text><text x="351.6" y="392.9" font-size="6.3" text-anchor="middle" fill="#222" stroke="#222" stroke-width="0.45" letter-spacing="0.55">***</text>
</svg></body></html>
